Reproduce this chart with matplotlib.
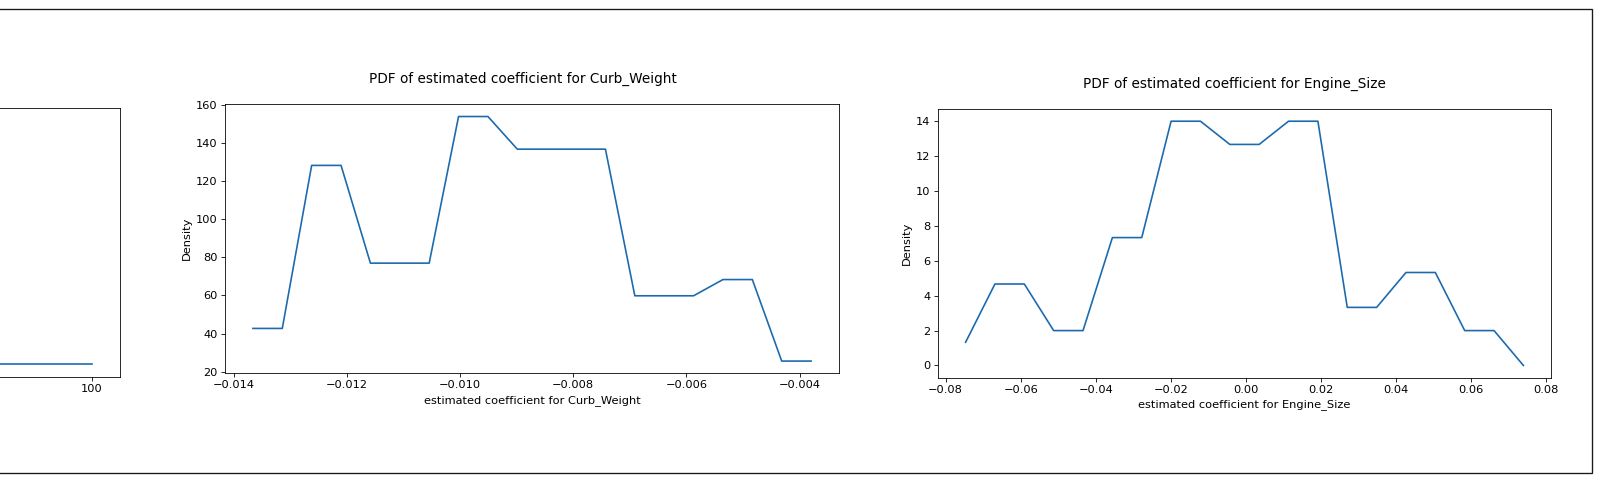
import matplotlib
matplotlib.use("Agg")
import matplotlib.pyplot as plt
from matplotlib.patches import Rectangle

# ---- data ----
curb_x = [-0.013659, -0.013140, -0.012621, -0.012102, -0.011583, -0.011064,
          -0.010545, -0.010026, -0.009507, -0.008988, -0.008469, -0.007950,
          -0.007431, -0.006912, -0.006393, -0.005874, -0.005355, -0.004836,
          -0.004317, -0.003798]
curb_y = [42.7, 42.7, 128.1, 128.1, 76.9, 76.9, 76.9, 153.7, 153.7, 136.6,
          136.6, 136.6, 136.6, 59.8, 59.8, 59.8, 68.3, 68.3, 25.6, 25.6]

engine_x = [-0.07467, -0.06685, -0.05902, -0.05120, -0.04338, -0.03555,
            -0.02773, -0.01991, -0.01208, -0.00426, 0.00356, 0.01139,
            0.01921, 0.02703, 0.03486, 0.04268, 0.05050, 0.05833,
            0.06615, 0.07397]
engine_y = [1.33, 4.67, 4.67, 2.0, 2.0, 7.33, 7.33, 14.0, 14.0, 12.67,
            12.67, 14.0, 14.0, 3.33, 3.33, 5.33, 5.33, 2.0, 2.0, 0.0]

# left panel (only its right end is visible in the reference)
left_x = [0.0, 12.5, 25.0, 50.0, 75.0, 100.0]
left_y = [0.004, 0.011, 0.002, 0.0005, 0.0005, 0.0005]
left_xticks = [100]

titles = ["PDF of estimated coefficient for Curb_Weight",
          "PDF of estimated coefficient for Engine_Size"]
xlabels = ["estimated coefficient for Curb_Weight",
           "estimated coefficient for Engine_Size"]
curb_yticks = [20, 40, 60, 80, 100, 120, 140, 160]
curb_xticks = [-0.014, -0.012, -0.010, -0.008, -0.006, -0.004]
engine_yticks = [0, 2, 4, 6, 8, 10, 12, 14]
engine_xticks = [-0.08, -0.06, -0.04, -0.02, 0.00, 0.02, 0.04, 0.06, 0.08]

LINE_COLOR = "#1b6aae"
W, H, DPI = 1600, 480, 74
FS = 11.1
plt.rcParams["font.size"] = FS
plt.rcParams["xtick.labelsize"] = FS
plt.rcParams["ytick.labelsize"] = FS
plt.rcParams["axes.labelsize"] = FS

fig = plt.figure(figsize=(W / DPI, H / DPI), dpi=DPI)
fig.patch.set_facecolor("white")


def px_axes(left, top, right, bottom):
    return [left / W, 1 - bottom / H, (right - left) / W, (bottom - top) / H]


# partial left axes
ax0 = fig.add_axes(px_axes(119.7 - 613.6, 107.7, 119.7, 376.7))
ax0.plot(left_x, left_y, color=LINE_COLOR, lw=1.6)
ax0.set_xticks(left_xticks)
ax0.set_yticks([])

# Curb_Weight
ax1 = fig.add_axes(px_axes(225, 104.3, 839, 373.3))
ax1.plot(curb_x, curb_y, color=LINE_COLOR, lw=1.6)
ax1.set_title(titles[0], x=0.4845, pad=21, fontsize=13.3)
ax1.set_xlabel(xlabels[0])
ax1.set_ylabel("Density")
ax1.set_yticks(curb_yticks)
ax1.set_xticks(curb_xticks)

# Engine_Size
ax2 = fig.add_axes(px_axes(937.7, 109, 1551.3, 377.7))
ax2.plot(engine_x, engine_y, color=LINE_COLOR, lw=1.6)
ax2.set_title(titles[1], x=0.4837, pad=21, fontsize=13.3)
ax2.set_xlabel(xlabels[1])
ax2.set_ylabel("Density")
ax2.set_yticks(engine_yticks)
ax2.set_xticks(engine_xticks)

# outer frame
fig.add_artist(Rectangle((-20 / W, 1 - 472.7 / H), (1592.3 + 20) / W,
                         (472.7 - 9) / H, transform=fig.transFigure,
                         fill=False, ec="#1a1a1a", lw=1.3))

fig.savefig("out.png", dpi=DPI)
